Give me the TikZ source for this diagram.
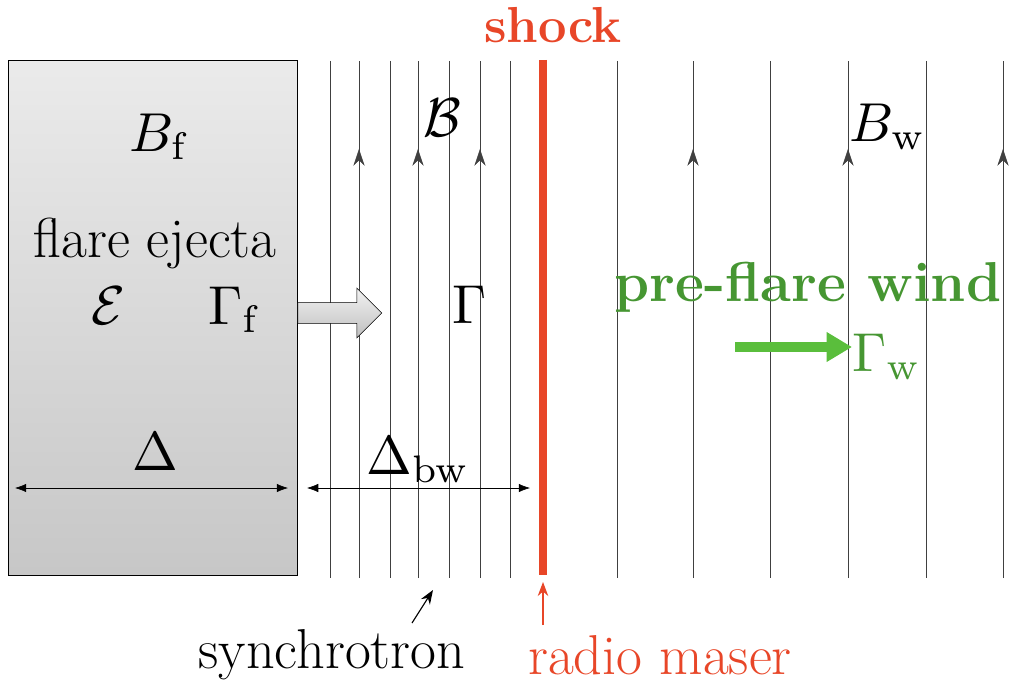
\documentclass[tikz,border=0pt]{standalone}
\usepackage{amsmath}
\usepackage{graphicx}
\usetikzlibrary{shapes.arrows,arrows.meta,decorations.markings}
\definecolor{shockred}{RGB}{232,70,40}
\definecolor{windgreen}{RGB}{70,150,50}
\definecolor{arrgreen}{RGB}{90,190,60}
\newcommand{\bigmath}[1]{\scalebox{3.9}{$#1$}}
\tikzset{
  field/.style={thin,black!75},
  fieldup/.style={field,decoration={markings,mark=at position 0.83 with {\arrow{Stealth[length=12pt,width=8pt]}}},postaction=decorate},
  big/.style={inner sep=0pt},
  mid/.style={font=\fontsize{40}{46}\selectfont,inner sep=0pt},
  dim/.style={{Latex[length=8pt]}-{Latex[length=8pt]},thin}
}
\begin{document}
\begin{tikzpicture}[x=0.025cm,y=-0.025cm]
\useasboundingbox (0,0) rectangle (1020,689);
% field lines behind the shock
\foreach \x in {330,390,449,510}
  \draw[field] (\x,61) -- (\x,578);
\foreach \x in {359,418,480}
  \draw[fieldup] (\x,578) -- (\x,61);
% field lines of the wind
\foreach \x in {617,770,926}
  \draw[field] (\x,61) -- (\x,578);
\foreach \x in {693,848,1003}
  \draw[fieldup] (\x,578) -- (\x,61);
% ejecta
\node[draw,thin,top color=black!8,bottom color=black!22,minimum width=289*0.025cm,minimum height=515*0.025cm,anchor=north west,inner sep=0pt] (ejecta) at (8,60) {};
\node[single arrow,draw,thin,top color=black!5,bottom color=black!25,minimum height=84*0.025cm,minimum width=50*0.025cm,single arrow head extend=10pt,inner sep=7pt,anchor=tail] (push) at (ejecta.east |- 0,313) {};
% shock
\draw[shockred,line width=6pt] (543,60) -- (543,575);
\node[font=\fontsize{36}{40}\selectfont\bfseries,text=shockred] (shock) at (553,25) {shock};
% labels
\node[big] (Bf) at (160,137) {\bigmath{B_{\mathrm f}}};
\node[mid] (flare) at (155,243) {flare ejecta};
\node[big] (E) at (108,306) {\bigmath{\mathcal{E}}};
\node[big] (Gf) at (235,310) {\bigmath{\Gamma_{\mathrm f}}};
\node[big] (Bcal) at (442,118) {\bigmath{\mathcal{B}}};
\node[big] (G) at (470,305) {\bigmath{\Gamma}};
\node[big] (Bw) at (888,127) {\bigmath{B_{\mathrm w}}};
\node[font=\fontsize{40}{46}\selectfont\bfseries,inner sep=0pt,text=windgreen] (wind) at (808,287) {pre-flare wind};
\node[big,text=windgreen,anchor=west] (Gw) at (852,357) {\bigmath{\Gamma_{\mathrm w}}};
\coordinate (gwtail) at (735,347);
\draw[arrgreen,line width=7pt,-{Triangle[length=18pt,width=20pt]}] (gwtail) -- (gwtail -| Gw.west);
% widths
\coordinate (dl) at (15,488);
\coordinate (dr) at (288,488);
\draw[dim] (dl) -- (dr);
\node[big] (D) at (155,452) {\bigmath{\Delta}};
\coordinate (bl) at (307,488);
\coordinate (br) at (530,488);
\draw[dim] (bl) -- (br);
\node[big] (Dbw) at (418,460) {\bigmath{\Delta_{\mathrm{bw}}}};
% emission
\node[mid] (sync) at (332,655) {synchrotron};
\node[mid,text=shockred] (maser) at (660,655) {radio maser};
\coordinate (synctip) at (433,590);
\coordinate (masertip) at (543,582);
\draw[thick,-{Stealth[length=10pt]}] (412,623) -- (synctip);
\draw[thick,shockred,-{Stealth[length=10pt]}] (543,625) -- (masertip);
\end{tikzpicture}
\end{document}
